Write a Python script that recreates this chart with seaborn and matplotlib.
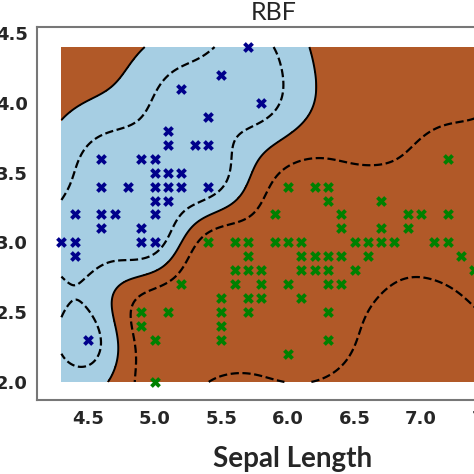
# SVM with an RBF kernel on two iris features: setosa against the rest
import numpy as np
import matplotlib
matplotlib.use("Agg")
import matplotlib.pyplot as plt
import seaborn as sns

sns.set_style("white")

# training points (sepal length, sepal width)
setosa_x = [5.2,5.1,5.1,4.6,4.9,5.0,5.0,5.1,5.2,4.6,4.8,5.0,5.1,5.2,5.0,5.1,4.4,4.6,4.7,5.0,5.7,5.5,5.8,5.4,5.3,5.4,5.4,4.6,4.9,4.3,4.4,4.9,5.0,4.4,4.5]
setosa_y = [4.1,3.8,3.7,3.6,3.6,3.6,3.5,3.5,3.5,3.4,3.4,3.4,3.4,3.4,3.3,3.3,3.2,3.2,3.2,3.2,4.4,4.2,4.0,3.9,3.7,3.7,3.4,3.1,3.1,3.0,3.0,3.0,3.0,2.9,2.3]
other_x = [6.0,6.2,6.3,6.3,5.9,7.2,6.7,6.4,6.9,7.0,7.2,5.2,4.9,5.1,4.9,5.0,5.0,5.4,5.6,5.7,5.9,6.0,6.1,5.7,6.1,6.2,6.3,5.6,5.7,5.8,6.1,6.2,6.3,5.6,5.8,6.0,6.3,5.5,5.7,5.8,6.1,5.5,5.7,6.3,5.5,5.5,6.3,6.0,6.4,6.7,6.9,6.5,6.6,6.7,6.8,7.1,7.2,6.4,6.6,7.3,6.5,7.4,6.4,7.6,7.7,7.7,7.7,7.9,7.7]
other_y = [3.4,3.4,3.4,3.3,3.2,3.6,3.3,3.2,3.2,3.2,3.2,2.7,2.5,2.5,2.4,2.3,2.0,3.0,3.0,3.0,3.0,3.0,3.0,2.9,2.9,2.9,2.9,2.8,2.8,2.8,2.8,2.8,2.8,2.7,2.7,2.7,2.7,2.6,2.6,2.6,2.6,2.5,2.5,2.5,2.4,2.3,2.3,2.2,3.1,3.1,3.1,3.0,3.0,3.0,3.0,3.0,3.0,2.9,2.9,2.9,2.8,2.8,2.7,3.0,3.8,2.6,2.8,3.8,3.0]

x_ticks = [4.5, 5.0, 5.5, 6.0, 6.5, 7.0, 7.5, 8.0]
y_ticks = [2.0, 2.5, 3.0, 3.5, 4.0, 4.5]

gamma = 8.0
C = 10.0
margin = 0.7

X = np.column_stack([setosa_x + other_x, setosa_y + other_y])
y = np.array([-1.0] * len(setosa_x) + [1.0] * len(other_x))


def svm_fit(X, y, gamma, C, tol=1e-3, max_iter=60000):
    # plain SMO on the dual problem
    K = np.exp(-gamma * ((X[:, None, :] - X[None, :, :]) ** 2).sum(-1))
    Q = y[:, None] * y[None, :] * K
    a = np.zeros(len(y))
    G = -np.ones(len(y))
    for _ in range(max_iter):
        v = -y * G
        up = ((y > 0) & (a < C)) | ((y < 0) & (a > 0))
        low = ((y > 0) & (a > 0)) | ((y < 0) & (a < C))
        i = np.where(up)[0][np.argmax(v[up])]
        j = np.where(low)[0][np.argmin(v[low])]
        m, M = v[i], v[j]
        if m - M < tol:
            break
        t = (m - M) / max(K[i, i] + K[j, j] - 2 * K[i, j], 1e-12)
        t = min(t, C - a[i] if y[i] > 0 else a[i], a[j] if y[j] > 0 else C - a[j])
        a[i] += y[i] * t
        a[j] -= y[j] * t
        G += Q[:, i] * y[i] * t - Q[:, j] * y[j] * t
    return a, (m + M) / 2


a, b = svm_fit(X, y, gamma, C)

xx, yy = np.meshgrid(np.linspace(X[:, 0].min(), X[:, 0].max(), 400),
                     np.linspace(X[:, 1].min(), X[:, 1].max(), 300))
grid = np.column_stack([xx.ravel(), yy.ravel()])
Z = np.exp(-gamma * ((grid[:, None, :] - X[None, :, :]) ** 2).sum(-1)) @ (a * y) + b
Z = Z.reshape(xx.shape)

fig = plt.figure(figsize=(4.74, 4.74), dpi=100)
ax = fig.add_axes([0.079, 0.156, 1.113, 0.786])

ax.contourf(xx, yy, Z > 0, levels=[-0.5, 0.5, 1.5], colors=["#a6cee3", "#b15928"])
ax.contour(xx, yy, Z, levels=[-margin, 0, margin], colors="black",
           linestyles=["--", "-", "--"], linewidths=[1.6, 1.4, 1.6])

sns.scatterplot(x=setosa_x, y=setosa_y, marker="X", color="#00008b", s=60,
                linewidth=0, ax=ax, zorder=3)
sns.scatterplot(x=other_x, y=other_y, marker="X", color="#008000", s=60,
                linewidth=0, ax=ax, zorder=3)

ax.set_xlim(4.12, 8.08)
ax.set_ylim(1.87, 4.54)
ax.set_xticks(x_ticks)
ax.set_yticks(y_ticks)
ax.set_xticklabels([f"{t:.1f}" for t in x_ticks], fontsize=13, fontweight="bold")
ax.set_yticklabels([f"{t:.1f}" for t in y_ticks], fontsize=13, fontweight="bold")
ax.tick_params(axis="both", direction="out", length=4, width=1, color="#555555", pad=3)
for side in ["left", "bottom", "top", "right"]:
    ax.spines[side].set_color("#777777")
    ax.spines[side].set_linewidth(1.5)

fig.text(274 / 474, 1 - 20 / 474, "RBF", fontsize=18, family="Lato",
         ha="center", va="baseline")
fig.text(293 / 474, 1 - 467 / 474, "Sepal Length", fontsize=20, family="Lato",
         fontweight="bold", ha="center", va="baseline")

fig.savefig("out.png", dpi=100)
